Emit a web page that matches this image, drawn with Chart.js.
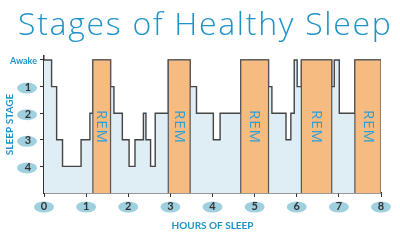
<!DOCTYPE html>
<html lang="en">
<head>
  <meta charset="UTF-8" />
  <title>Stages of Healthy Sleep</title>
  <script src="https://cdn.jsdelivr.net/npm/chart.js"></script>
  <style>
    body { margin: 0; background: #fff; }
    #wrap { width: 400px; height: 246px; }
  </style>
</head>
<body>
  <div id="wrap"><canvas id="chart"></canvas></div>

  <script>
    // sleep stage changes: hour it starts, and stage (0 = awake)
    const stageStart = [0, 0.18, 0.30, 0.44, 0.88, 1.09, 1.16, 1.58, 1.66, 1.86, 2.02, 2.16, 2.36, 2.42, 2.53, 2.64,
                        2.95, 3.47, 3.62, 4.02, 4.18, 4.67, 5.33, 5.41, 5.745, 5.86, 5.94, 6.01, 6.11, 6.83, 6.89, 7.01, 7.38];
    const stage = [0, 1, 3, 4, 3, 2, 'REM', 1, 2, 3, 4, 3, 2, 3, 4, 2,
                   'REM', 1, 2, 3, 2, 'REM', 1, 2, 3, 2, 0, 1, 'REM', 1, 0, 2, 'REM'];
    const endHour = 8;
    const hourTicks = [0, 1, 2, 3, 4, 5, 6, 7, 8];
    const stageTicks = [0, 1, 2, 3, 4];
    const stageLabels = ['Awake', '1', '2', '3', '4'];
    const chartTitle = 'Stages of Healthy Sleep';

    const BLUE = '#1f93c8';
    const BLOB = '#9fd0df';

    // hypnogram line (REM drawn at the top, covered by the orange bars)
    const linePts = stageStart.map((h, i) => ({ x: h, y: stage[i] === 'REM' ? 0 : stage[i] }));
    linePts.push({ x: endHour, y: linePts[linePts.length - 1].y });

    const remSpans = [];
    stage.forEach((s, i) => {
      if (s === 'REM') {
        const end = i + 1 < stageStart.length ? stageStart[i + 1] : endHour;
        remSpans.push([stageStart[i], end]);
      }
    });

    const datasets = [{
      data: linePts,
      stepped: true,
      borderColor: '#444',
      borderWidth: 1.4,
      backgroundColor: '#dfeef4',
      fill: 'start',
      pointRadius: 0,
      order: 2
    }];
    remSpans.forEach(([a, b]) => {
      datasets.push({
        data: [{ x: a, y: 5 }, { x: a, y: 0 }, { x: b, y: 0 }, { x: b, y: 5 }],
        borderColor: '#555',
        borderWidth: 1.2,
        backgroundColor: '#f6bb80',
        fill: 'start',
        pointRadius: 0,
        tension: 0,
        order: 1
      });
    });

    function blob(ctx, x, y) {
      ctx.beginPath();
      ctx.ellipse(x, y, 10, 5.5, 0, 0, Math.PI * 2);
      ctx.fillStyle = BLOB;
      ctx.fill();
    }

    const decor = {
      id: 'decor',
      beforeDraw(chart) {
        const ctx = chart.ctx;
        const xs = chart.scales.x, ys = chart.scales.y;
        ctx.save();
        hourTicks.forEach(h => blob(ctx, xs.getPixelForValue(h), 207));
        stageTicks.forEach((s, i) => {
          if (i > 0) blob(ctx, 27, ys.getPixelForValue(s) + 1.5);
        });
        ctx.restore();
      },
      afterDraw(chart) {
        const ctx = chart.ctx;
        const xs = chart.scales.x, ys = chart.scales.y;
        ctx.save();
        // title
        ctx.font = '300 32px "Open Sans"';
        ctx.letterSpacing = '1.7px';
        ctx.fillStyle = BLUE;
        ctx.textAlign = 'left';
        ctx.textBaseline = 'alphabetic';
        ctx.fillText(chartTitle, 18, 35);
        ctx.letterSpacing = '0px';
        // y labels
        ctx.textBaseline = 'middle';
        stageTicks.forEach((s, i) => {
          const y = ys.getPixelForValue(s);
          if (i === 0) {
            ctx.font = 'bold 9px Lato';
            ctx.fillStyle = BLUE;
            ctx.textAlign = 'right';
            ctx.fillText(stageLabels[i], 37, y + 1);
          } else {
            ctx.font = 'bold 11px Lato';
            ctx.fillStyle = '#333';
            ctx.textAlign = 'center';
            ctx.fillText(stageLabels[i], 28, y + 1);
          }
        });
        // REM labels
        ctx.font = '15px "Open Sans"';
        ctx.letterSpacing = '1px';
        ctx.fillStyle = '#2a9fd8';
        ctx.textAlign = 'center';
        remSpans.forEach(([a, b]) => {
          ctx.save();
          ctx.translate(xs.getPixelForValue((a + b) / 2), ys.getPixelForValue(2.5));
          ctx.rotate(Math.PI / 2);
          ctx.fillText('REM', 0.5, 0);
          ctx.restore();
        });
        ctx.restore();
      }
    };

    new Chart(document.getElementById('chart'), {
      type: 'line',
      data: { datasets },
      plugins: [decor],
      options: {
        responsive: true,
        maintainAspectRatio: false,
        animation: false,
        layout: { padding: { left: 0, right: 19, top: 56, bottom: 0 } },
        plugins: {
          legend: { display: false },
          tooltip: { enabled: false },
          title: { display: false }
        },
        scales: {
          x: {
            type: 'linear',
            min: 0,
            max: endHour,
            afterBuildTicks: s => { s.ticks = hourTicks.map(v => ({ value: v })); },
            afterFit: s => { s.height = 53; },
            grid: { drawOnChartArea: false, color: '#333', tickLength: 4 },
            border: { color: '#333', width: 1.5 },
            ticks: { color: '#333', font: { family: 'Lato', size: 11, weight: 'bold' }, padding: 3, maxRotation: 0 },
            title: {
              display: true,
              text: 'HOURS OF SLEEP',
              color: BLUE,
              font: { family: 'Lato', size: 10, weight: 'bold' },
              padding: { top: 4, bottom: 14 }
            }
          },
          y: {
            type: 'linear',
            reverse: true,
            min: -0.15,
            max: 5,
            afterBuildTicks: s => { s.ticks = stageTicks.map(v => ({ value: v })); },
            afterFit: s => { s.width = 44; },
            grid: { drawOnChartArea: false, color: '#333', tickLength: 4 },
            border: { color: '#333', width: 1.5 },
            ticks: { display: false },
            title: {
              display: true,
              text: 'SLEEP STAGE',
              color: BLUE,
              font: { family: 'Lato', size: 10, weight: 'bold' },
              padding: { top: 4, bottom: 0 }
            }
          }
        }
      }
    });
  </script>
</body>
</html>
